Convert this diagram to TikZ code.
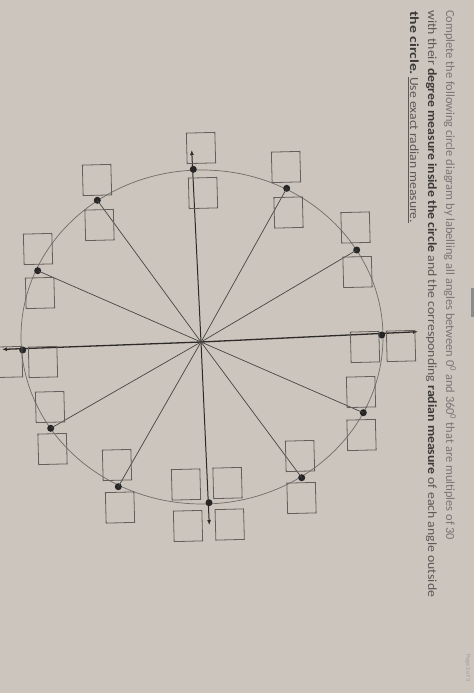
\documentclass[tikz,border=0pt]{standalone}
\usepackage{fontspec}
\usepackage{graphicx}
\setmainfont{Carlito}
\usetikzlibrary{arrows.meta}
\definecolor{paper}{RGB}{204,197,190}
\definecolor{ink}{RGB}{92,88,86}
\definecolor{inkb}{RGB}{60,57,55}
\definecolor{ray}{RGB}{72,68,66}
\definecolor{axisc}{RGB}{45,42,40}
\definecolor{circc}{RGB}{112,107,102}
\definecolor{boxc}{RGB}{100,95,92}
\tikzset{
  lbox/.style={draw=boxc, line width=0.8pt, minimum width=28.5pt, minimum height=30.5pt, inner sep=0pt, rotate=1.5},
  pt/.style={circle, fill=black!85, minimum size=7pt, inner sep=0pt},
  rayline/.style={draw=ray, line width=0.7pt},
  axisline/.style={draw=axisc, line width=1.3pt, -{Latex[length=5pt,width=4pt]}},
  txt/.style={rotate=-90, anchor=base west, inner sep=0pt, text=ink, font=\fontsize{12.4}{14}\selectfont},
}
\newcommand{\seg}[2]{\resizebox{#1pt}{\height}{#2}}
\begin{document}
\begin{tikzpicture}[x=1pt,y=-1pt]
\fill[paper] (0,0) rectangle (474,693);
\useasboundingbox (0,0) rectangle (474,693);
\fill[black!45] (471,288) rectangle (474,317);
% text
\node[txt, text=ink!82] (t1) at (446,10) {\seg{530}{Complete the following circle diagram by labelling all angles between 0\textsuperscript{0} and 360\textsuperscript{0} that are multiples of 30}};
\node[txt] (t2) at (428,10) {\seg{587}{with their \textbf{\color{inkb}degree measure inside the circle} and the corresponding \textbf{\color{inkb}radian measure} of each angle outside}};
\node[txt] (t3a) at (410,11) {\seg{64}{\textbf{\color{inkb}the circle.}}};
\node[txt] (t3b) at (410,77) {\seg{146}{\underline{Use exact radian measure.}}};
\node[rotate=-90, text=ink!60, font=\fontsize{6}{7}\selectfont, inner sep=0pt] (pg) at (468,668) {Page 2 of 3};
% circle
\draw[circc, line width=0.7pt] (202,337) ellipse [x radius=181, y radius=167];
% center and ends
\coordinate (O) at (201,342);
\coordinate (AR) at (418,331.7);
\coordinate (AL) at (2,349.4);
\coordinate (AT) at (191.7,150);
\coordinate (AB) at (209.3,525);
\draw[axisline] (O) -- (AR);
\draw[axisline] (O) -- (AL);
\draw[axisline, line width=1pt] (O) -- (AT);
\draw[axisline, line width=1pt] (O) -- (AB);
% dots
\node[pt] (d0) at (381.7,335) {};
\node[pt] (d30) at (356.7,250) {};
\node[pt] (d60) at (286.7,188.3) {};
\node[pt] (d90) at (193.3,169.3) {};
\node[pt] (d120) at (97.3,200.3) {};
\node[pt] (d150) at (37.7,270.7) {};
\node[pt] (d180) at (22.7,350) {};
\node[pt] (d210) at (50.7,428.3) {};
\node[pt] (d240) at (118.3,486.7) {};
\node[pt] (d270) at (209,502.7) {};
\node[pt] (d300) at (301.7,477.7) {};
\node[pt] (d330) at (363.3,412.7) {};
\foreach \a in {30,60,120,150,210,240,300,330}{
  \draw[rayline] (O) -- (d\a.center);
}
% boxes
\node[lbox] (b90o) at (201,148) {};
\node[lbox] (b90i) at (203,193) {};
\node[lbox] (b60o) at (286,167) {};
\node[lbox] (b60i) at (288.5,212.5) {};
\node[lbox] (b30o) at (355.5,227.5) {};
\node[lbox] (b30i) at (357.5,272) {};
\node[lbox] (b0i) at (365,347) {};
\node[lbox] (b0o) at (401,346) {};
\node[lbox] (b330i) at (361,392) {};
\node[lbox] (b330o) at (361.5,435) {};
\node[lbox] (b300i) at (300,456) {};
\node[lbox] (b300o) at (301.5,498) {};
\node[lbox] (b270a) at (186,484.5) {};
\node[lbox] (b270b) at (227.5,483) {};
\node[lbox] (b270c) at (188,526) {};
\node[lbox] (b270d) at (229.7,524.5) {};
\node[lbox] (b240i) at (117,465) {};
\node[lbox] (b240o) at (120,507.5) {};
\node[lbox] (b210i) at (50,407) {};
\node[lbox] (b210o) at (52.5,449) {};
\node[lbox] (b180i) at (43,362) {};
\node[lbox] (b180o) at (8,362) {};
\node[lbox] (b150i) at (40,293) {};
\node[lbox] (b150o) at (38,249) {};
\node[lbox] (b120i) at (99.5,225) {};
\node[lbox] (b120o) at (97,180) {};
\end{tikzpicture}
\end{document}
